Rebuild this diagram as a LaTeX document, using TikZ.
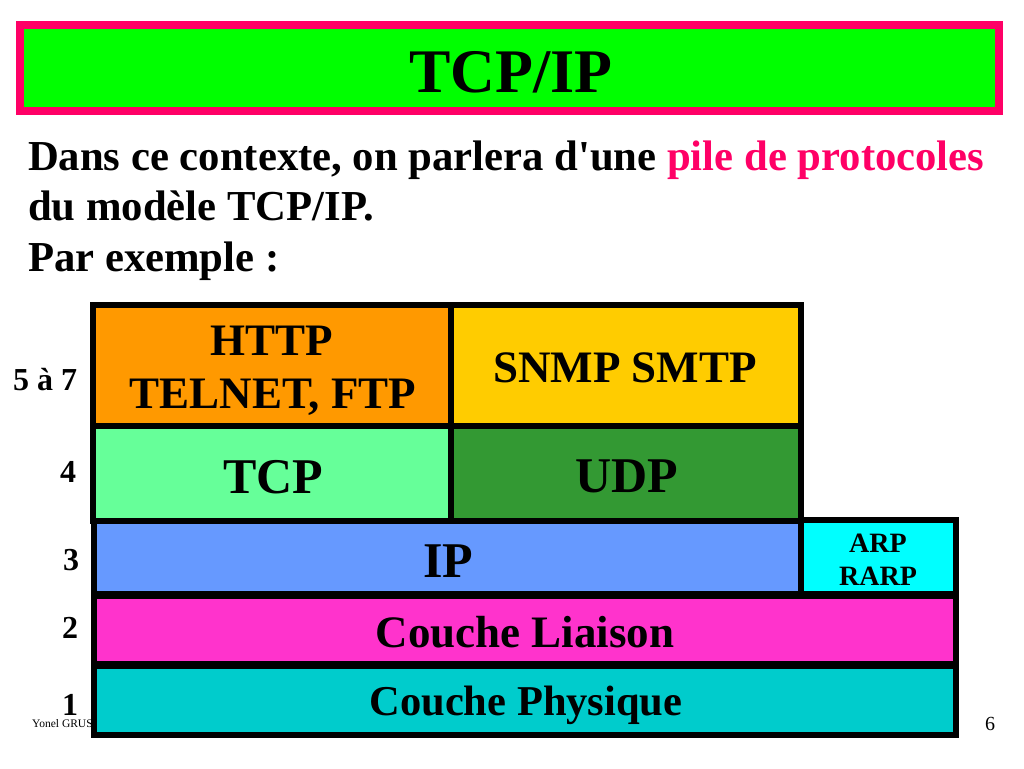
\documentclass[tikz,border=0pt]{standalone}
\usepackage{fontspec}
\setmainfont{Liberation Serif}
\definecolor{ttlpink}{HTML}{FF0066}
\definecolor{ttlgreen}{HTML}{00FF00}
\definecolor{corange}{HTML}{FF9900}
\definecolor{cyellow}{HTML}{FFCC00}
\definecolor{clgreen}{HTML}{66FF99}
\definecolor{cdgreen}{HTML}{339933}
\definecolor{cblue}{HTML}{6699FF}
\definecolor{ccyan}{HTML}{00FFFF}
\definecolor{cpink}{HTML}{FF33CC}
\definecolor{cteal}{HTML}{00CCCC}
\begin{document}
\begin{tikzpicture}[x=1pt,y=-1pt,
  layerbox/.style={draw=black, line width=6pt, inner sep=0pt, outer sep=0pt},
  txt/.style={inner sep=0pt, outer sep=0pt, anchor=base, font=\bfseries\fontsize{#1}{#1}\selectfont},
  bodyline/.style={inner sep=0pt, outer sep=0pt, anchor=base west, font=\bfseries\fontsize{42.7}{50}\selectfont},
  numlbl/.style={inner sep=0pt, outer sep=0pt, anchor=base, font=\bfseries\fontsize{32}{32}\selectfont}]
\useasboundingbox (0,0) rectangle (1024,768);
\fill[white] (0,0) rectangle (1024,768);

% title
\node[draw=ttlpink, fill=ttlgreen, line width=8pt, minimum width=979pt, minimum height=86pt, inner sep=0pt] (title) at (509.5,68) {};
\node[txt=62] (titletxt) at (511,92) {TCP/IP};

% body text
\node[bodyline] (l1) at (28,170) {Dans ce contexte, on parlera d\textquotesingle une \textcolor{ttlpink}{pile de protocoles}};
\node[bodyline] (l2) at (28,220) {du modèle TCP/IP.};
\node[bodyline] (l3) at (28,271) {Par exemple :};

% footer
\node[inner sep=0pt, anchor=base west, font=\fontsize{11.5}{12}\selectfont] (author) at (32,727) {Yonel GRUS};
\node[inner sep=0pt, anchor=base, font=\fontsize{20}{20}\selectfont] (page) at (990,730) {6};

% layer boxes
\node[layerbox, fill=corange, minimum width=358pt, minimum height=121pt] (http) at (271.5,365.5) {};
\node[layerbox, fill=cyellow, minimum width=350pt, minimum height=121pt] (snmp) at (625.5,365.5) {};
\node[layerbox, fill=clgreen, minimum width=358pt, minimum height=94.5pt] (tcp) at (271.5,473.25) {};
\node[layerbox, fill=cdgreen, minimum width=350pt, minimum height=94.5pt] (udp) at (625.5,473.25) {};
\node[layerbox, fill=cblue, minimum width=706.5pt, minimum height=73.5pt] (ip) at (447.25,557.25) {};
\node[layerbox, fill=ccyan, minimum width=155pt, minimum height=74pt] (arp) at (878,557) {};
\node[layerbox, fill=cpink, minimum width=861.5pt, minimum height=68pt] (liaison) at (524.75,630) {};
\node[layerbox, fill=cteal, minimum width=861.5pt, minimum height=69pt] (phys) at (524.75,700.5) {};

% box texts
\node[txt=45] (httpa) at (272,355) {HTTP};
\node[txt=45] (httpb) at (273,408) {TELNET, FTP};
\node[txt=45] (snmpt) at (625,382) {SNMP SMTP};
\node[txt=50] (tcpt) at (273,493) {TCP};
\node[txt=50] (udpt) at (627,492) {UDP};
\node[txt=50] (ipt) at (448,577) {IP};
\node[txt=28] (arpa) at (878,552) {ARP};
\node[txt=28] (arpb) at (878,585) {RARP};
\node[txt=45] (liat) at (525,647) {Couche Liaison};
\node[txt=42.5] (phyt) at (526,715) {Couche Physique};

% layer numbers
\node[numlbl, anchor=base east] (n57) at (77,390) {5 à 7};
\node[numlbl] (n4) at (68,482) {4};
\node[numlbl] (n3) at (71,570) {3};
\node[numlbl] (n2) at (70,638) {2};
\node[numlbl] (n1) at (70,715) {1};
\end{tikzpicture}
\end{document}
